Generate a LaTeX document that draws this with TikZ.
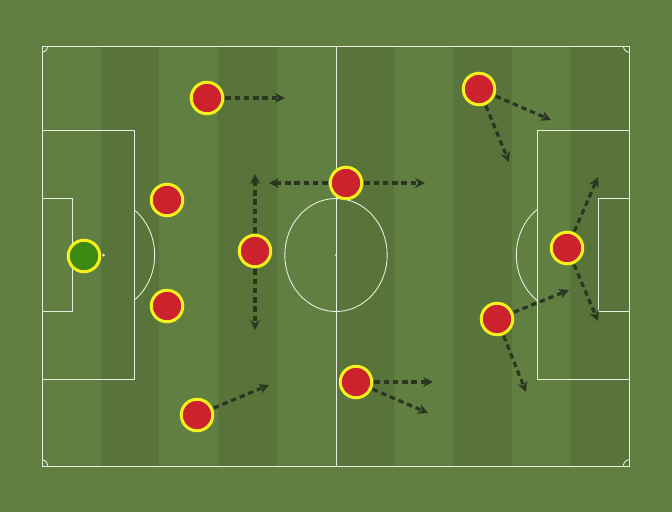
\documentclass[tikz,border=0pt]{standalone}
\usetikzlibrary{arrows.meta,shadows}
\definecolor{grass}{RGB}{98,127,66}
\definecolor{grassdark}{RGB}{88,116,58}
\definecolor{pline}{RGB}{232,238,226}
\definecolor{pred}{RGB}{204,34,46}
\definecolor{pyel}{RGB}{246,240,28}
\definecolor{pgreen}{RGB}{58,138,20}
\definecolor{arr}{RGB}{42,54,32}
\begin{document}
\begin{tikzpicture}[x=1pt,y=-1pt,
  player/.style={circle,draw=pyel,line width=3pt,fill=pred,minimum size=31.5pt,inner sep=0pt,outer sep=2.5pt,
     drop shadow={opacity=0.25,shadow xshift=0pt,shadow yshift=-1.2pt}},
  keeper/.style={player,fill=pgreen},
  run/.style={draw=arr,line width=3.2pt,dash pattern=on 5.5pt off 3.8pt,-{Stealth[length=10pt,width=10pt]}},
  pl/.style={draw=pline,line width=0.9pt}]
\useasboundingbox (0,0) rectangle (672,512);
\fill[grass] (0,0) rectangle (672,512);
\foreach \i in {1,3,5,7,9} \fill[grassdark] ({42+\i*58.7},46) rectangle ({42+(\i+1)*58.7},466);
% pitch markings
\draw[pl] (42,46) rectangle (629,466);
\draw[pl] (336,46) -- (336,466);
\draw[pl] (336,255) ellipse [x radius=51.2, y radius=56.5];
\fill[pline] (336,255) circle (1.2);
\draw[pl] (42,130.5) rectangle (134,379.5);
\draw[pl] (537,130.5) rectangle (629,379.5);
\draw[pl] (42,198.5) rectangle (72.7,311.5);
\draw[pl] (598.3,198.5) rectangle (629,311.5);
\fill[pline] (103.5,255) circle (1.5);
\fill[pline] (567.5,255) circle (1.5);
\begin{scope}
  \clip (134,0) rectangle (200,512);
  \draw[pl] (103.5,255) ellipse [x radius=51.2, y radius=56.5];
\end{scope}
\begin{scope}
  \clip (470,0) rectangle (537,512);
  \draw[pl] (567.5,255) ellipse [x radius=51.2, y radius=56.5];
\end{scope}
\begin{scope}
  \clip (42,46) rectangle (629,466);
  \draw[pl] (42,46) ellipse [x radius=5.6, y radius=6.2];
  \draw[pl] (629,46) ellipse [x radius=5.6, y radius=6.2];
  \draw[pl] (42,466) ellipse [x radius=5.6, y radius=6.2];
  \draw[pl] (629,466) ellipse [x radius=5.6, y radius=6.2];
\end{scope}
% run targets
\coordinate (t1) at (285,98);
\coordinate (t2a) at (255,174);
\coordinate (t2b) at (255,330);
\coordinate (t3a) at (269,183);
\coordinate (t3b) at (425,183);
\coordinate (t4a) at (551,120);
\coordinate (t4b) at (509,162);
\coordinate (t5a) at (598,177);
\coordinate (t5b) at (598,321);
\coordinate (t6a) at (569,290);
\coordinate (t6b) at (526,392);
\coordinate (t7) at (269,385);
\coordinate (t8a) at (433,382);
\coordinate (t8b) at (428,413);
% players
\node[keeper] (gk) at (84,256) {};
\node[player] (p1) at (207,98) {};
\node[player] (lcb) at (167,200) {};
\node[player] (rcb) at (167,306) {};
\node[player] (p2) at (255,251) {};
\node[player] (p7) at (197,415) {};
\node[player] (p3) at (346,183) {};
\node[player] (p8) at (356,382) {};
\node[player] (p4) at (479,89) {};
\node[player] (p5) at (567,248) {};
\node[player] (p6) at (497,319) {};
% runs
\draw[run] (p1) -- (t1);
\draw[run] (p2) -- (t2a);
\draw[run] (p2) -- (t2b);
\draw[run] (p3) -- (t3a);
\draw[run] (p3) -- (t3b);
\draw[run] (p4) -- (t4a);
\draw[run] (p4) -- (t4b);
\draw[run] (p5) -- (t5a);
\draw[run] (p5) -- (t5b);
\draw[run] (p6) -- (t6a);
\draw[run] (p6) -- (t6b);
\draw[run] (p7) -- (t7);
\draw[run] (p8) -- (t8a);
\draw[run] (p8) -- (t8b);
\end{tikzpicture}
\end{document}
